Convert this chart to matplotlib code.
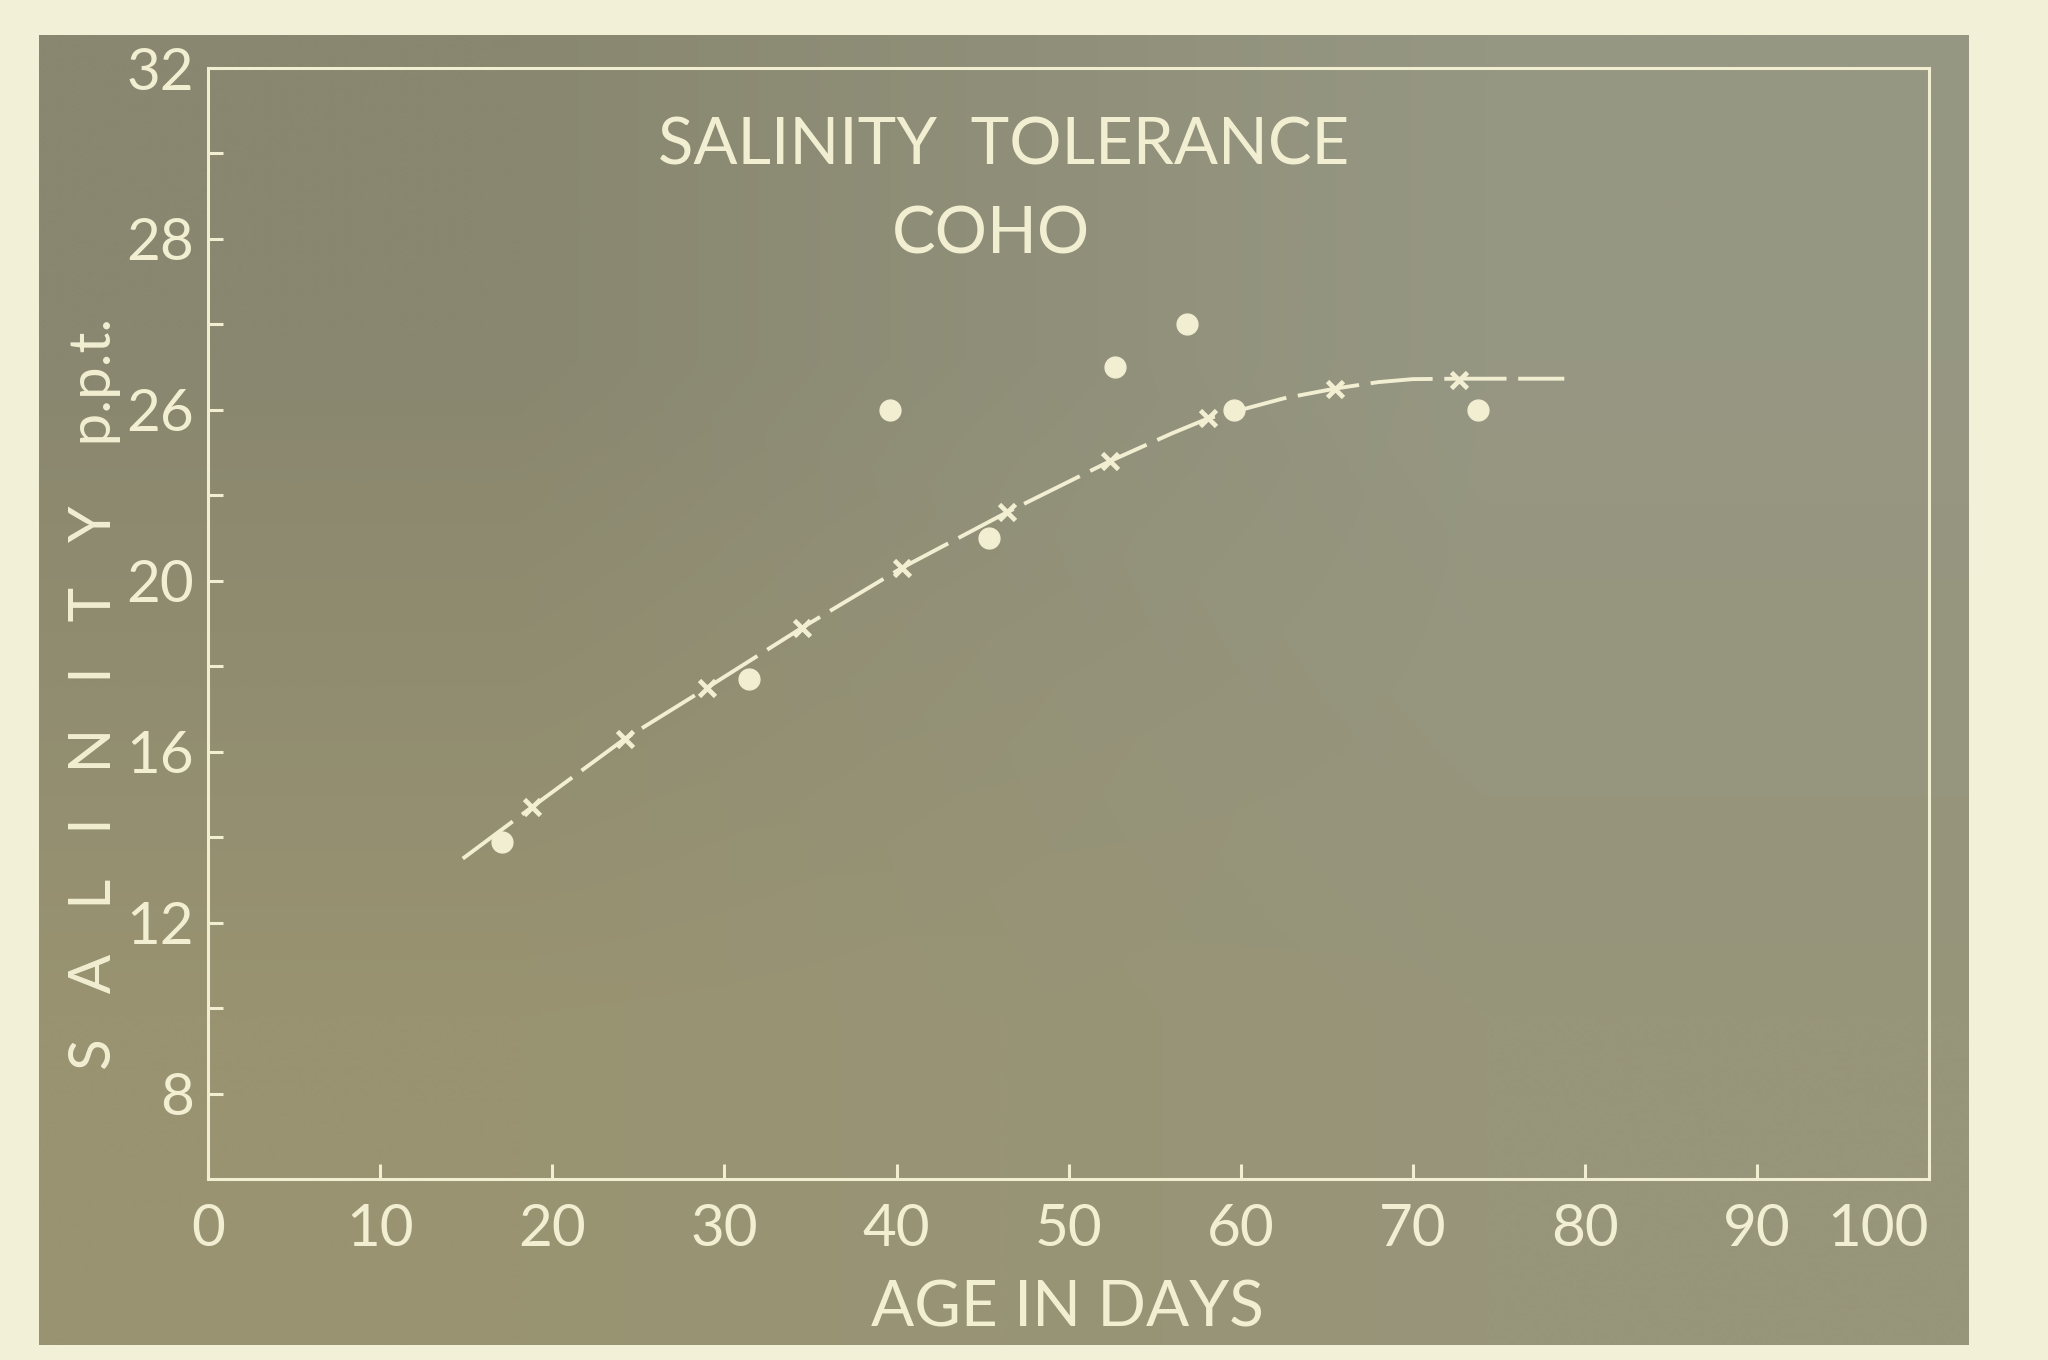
import numpy as np
import matplotlib
matplotlib.use("Agg")
import matplotlib.pyplot as plt

# measured points (days, salinity ppt)
obs_days = [17.1, 31.4, 39.6, 45.4, 52.7, 56.9, 59.6, 73.8]
obs_sal = [13.9, 17.7, 24.0, 21.0, 25.0, 26.0, 24.0, 24.0]

# fitted curve points (x marks)
fit_days = [18.8, 24.2, 29.0, 34.5, 40.3, 46.4, 52.4, 58.1, 65.5, 72.7]
fit_sal = [14.7, 16.3, 17.5, 18.9, 20.3, 21.6, 22.8, 23.8, 24.5, 24.7]

# hand-drawn curve
curve_days = [14.8, 18.8, 24.2, 29.0, 34.5, 40.3, 46.4, 52.4, 56.0, 58.1, 60.0,
              62.5, 65.5, 68.0, 70.0, 72.7, 78.8]
curve_sal = [13.5, 14.7, 16.3, 17.5, 18.9, 20.3, 21.6, 22.8, 23.45, 23.8, 24.0,
             24.27, 24.5, 24.65, 24.72, 24.73, 24.73]

x_ticks = [0, 10, 20, 30, 40, 50, 60, 70, 80, 90, 100]
y_ticks = [8, 12, 16, 20, 24, 28, 32]
y_tick_labels = ["8", "12", "16", "20", "26", "28", "32"]  # as lettered on the slide
y_minor = [10, 14, 18, 22, 26, 30]

paper = "#f3f0d8"
ink = "#f1eed2"
FONT = ["Lato", "DejaVu Sans"]

fig = plt.figure(figsize=(20.48, 13.6), dpi=100)
fig.patch.set_facecolor(paper)

# slide background with a little tone variation
bg = fig.add_axes([0.019, 0.011, 0.942, 0.963])
corners = np.array([[[137, 135, 111], [150, 151, 131]],
                    [[153, 147, 113], [151, 149, 122]]]) / 255.0
bg.imshow(corners, interpolation="bilinear", aspect="auto", extent=[0, 1, 0, 1])
bg.set_axis_off()

ax = fig.add_axes([0.1016, 0.133, 0.8404, 0.817])
ax.patch.set_alpha(0)
ax.set_xlim(0, 100)
ax.set_ylim(6, 32)

for s in ax.spines.values():
    s.set_color(ink)
    s.set_linewidth(2.2)

ax.set_xticks(x_ticks)
ax.set_xticklabels([str(t) for t in x_ticks])
ax.set_yticks(y_ticks)
ax.set_yticklabels(y_tick_labels)
ax.set_yticks(y_minor, minor=True)
ax.tick_params(axis="both", which="both", direction="in", color=ink, width=2.2,
               length=11, labelcolor=ink, labelsize=42)
ax.tick_params(axis="x", pad=17)
ax.tick_params(axis="y", pad=10)
for lab in ax.get_xticklabels() + ax.get_yticklabels():
    lab.set_family(FONT)
ax.get_xticklabels()[-1].set_horizontalalignment("right")

ax.plot(curve_days, curve_sal, color=ink, lw=2.8, dashes=(16, 3), zorder=2)
ax.plot(fit_days, fit_sal, linestyle="none", marker="x", markersize=12,
        mew=3.4, color=ink, zorder=3)
ax.plot(obs_days, obs_sal, linestyle="none", marker="o", markersize=15,
        color=ink, mec=ink, zorder=4)

ax.text(0.462, 0.93, "SALINITY  TOLERANCE", transform=ax.transAxes, ha="center",
        va="center", color=ink, fontsize=47, family=FONT)
ax.text(0.455, 0.85, "COHO", transform=ax.transAxes, ha="center",
        va="center", color=ink, fontsize=47, family=FONT)

fig.text(0.521, 0.038, "AGE IN DAYS", ha="center", va="center", color=ink,
         fontsize=46, family=FONT)
fig.text(0.046, 0.49, "S   A   L   I   N   I   T   Y    p.p.t.", rotation=90,
         ha="center", va="center", color=ink, fontsize=42, family=FONT)

fig.savefig("out.png", dpi=100, facecolor=fig.get_facecolor())
